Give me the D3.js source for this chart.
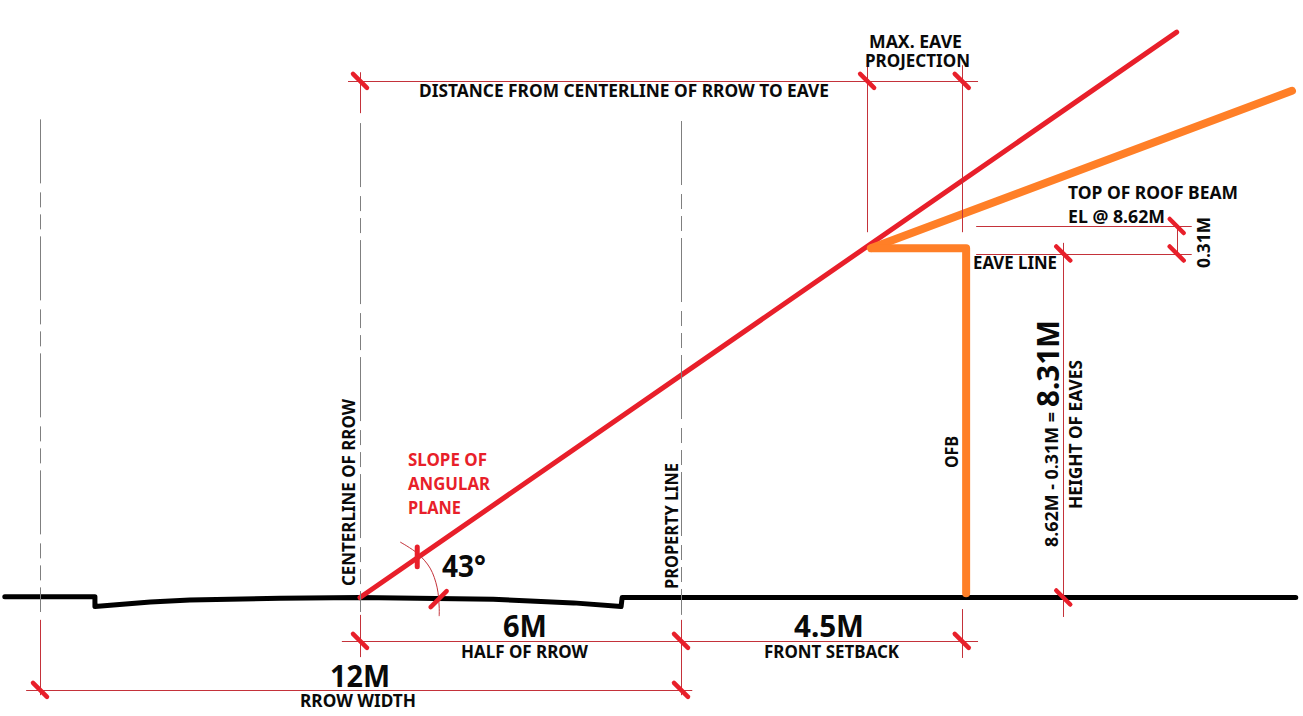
<!DOCTYPE html>
<html>

<head>
  <script src="https://cdnjs.cloudflare.com/ajax/libs/d3/7.8.5/d3.min.js"></script>
  <style>
    body,
    html {
      margin: 0;
      padding: 0;
      background: white;
      overflow: hidden;
    }

    text {
      font-family: "Noto Sans", sans-serif;
      font-weight: 700;
      fill: #0a0a0a;
    }
  </style>
</head>

<body>
  <svg id="mySVG" width="1303" height="716"></svg>

  <script>
    // everything is in metres (the sketch is not to scale, so the scales are piecewise)
    const stations = [-6, 0, 6, 10.5];
    const elevations = [0, 8.31, 8.62, 15];

    const ground = [[-6.66, 0.02], [-4.97, 0.02], [-4.97, -0.22], [-3.93, -0.11], [-3.19, -0.06], [-1.5, -0.02], [0, 0], [2.49, -0.04],
    [3.18, -0.085], [3.99, -0.13], [4.88, -0.22], [4.9, 0], [6, 0], [15.81, 0]];
    const plane = [[0, 0], [13.91, 13.31]];
    const roof = [[9.03, 8.37], [15.75, 11.89]];
    const wall = [[9.05, 8.37], [10.55, 8.37], [10.55, 0.1]];
    const angleArc = [[0.75, 1.34], [1.07, 1.07], [1.31, 0.71], [1.44, 0.25], [1.48, -0.23], [1.48, -0.45]];

    // [station, from elevation, to elevation]
    const centerLines = [[-6, 11.2, -0.35], [0, 11.11, -0.35], [6, 11.16, -0.42]];
    const extensionLines = [[-6, -0.54, -2.36], [0, 12.34, 11.35], [0, -0.42, -1.44], [6, -0.54, -2.36],
    [8.97, 12.56, 8.55], [10.48, 12.51, 8.55], [10.48, -0.28, -1.46], [12.1, 8.43, -0.47], [13.91, 8.62, 8.31]];
    // [elevation, from station, to station]
    const dimensionRows = [[12.13, -0.225, 10.74], [-1.05, -0.34, 10.74], [-2.23, -6.26, 6.18], [8.62, 10.71, 14.15], [8.31, 10.71, 14.15]];
    const slashTicks = [[0, 12.13], [8.97, 12.13], [10.48, 12.13], [0, -1.05], [6, -1.05], [10.48, -1.05], [-6, -2.23], [6, -2.23],
    [13.91, 8.62], [13.91, 8.31], [12.1, 8.31], [12.1, 0]];

    const distanceLabel = "DISTANCE FROM CENTERLINE OF RROW TO EAVE";
    const eaveLabels = ["MAX. EAVE", "PROJECTION"];
    const beamLabels = ["TOP OF ROOF BEAM", "EL @ 8.62M", "EAVE LINE", "0.31M"];
    const slopeLabels = ["SLOPE OF", "ANGULAR", "PLANE"];
    const lineLabels = ["CENTERLINE OF RROW", "PROPERTY LINE", "OFB"];
    const dimensionLabels = ["43°", "6M", "HALF OF RROW", "4.5M", "FRONT SETBACK", "12M", "RROW WIDTH"];
    const heightLabels = ["8.62M - 0.31M =", "8.31M", "HEIGHT OF EAVES"];

    const RED = "#e81f2a";
    const THIN_RED = "#c4323a";
    const ORANGE = "#ff7f27";
    const GRAY = "#7f7f7f";

    const svg = d3.select('#mySVG');

    const x = d3.scaleLinear().domain(stations).range([40, 360, 681, 963]);
    const y = d3.scaleLinear().domain(elevations).range([597.5, 253.5, 226, -37.7]);

    const line = d3.line().x(d => x(d[0])).y(d => y(d[1]));

    function thick(points, color, width) {
      svg.append('path')
        .attr('d', line(points))
        .attr('fill', 'none')
        .attr('stroke', color)
        .attr('stroke-width', width)
        .attr('stroke-linecap', 'round')
        .attr('stroke-linejoin', 'round');
    }

    thick(ground, 'black', 5);
    thick(plane, RED, 5);
    thick(roof, ORANGE, 8);
    thick(wall, ORANGE, 8);

    // long and short dashes of the centerlines
    svg.selectAll('.center')
      .data(centerLines)
      .join('line')
      .attr('class', 'center')
      .attr('x1', d => Math.round(x(d[0])) + 0.5)
      .attr('x2', d => Math.round(x(d[0])) + 0.5)
      .attr('y1', d => y(d[1]))
      .attr('y2', d => y(d[2]))
      .attr('stroke', GRAY)
      .attr('stroke-dasharray', '64 9 15 7 15 7');

    svg.selectAll('.extension')
      .data(extensionLines)
      .join('line')
      .attr('class', 'extension')
      .attr('x1', d => Math.round(x(d[0])) + 0.5)
      .attr('x2', d => Math.round(x(d[0])) + 0.5)
      .attr('y1', d => y(d[1]))
      .attr('y2', d => y(d[2]))
      .attr('stroke', THIN_RED);

    svg.selectAll('.row')
      .data(dimensionRows)
      .join('line')
      .attr('class', 'row')
      .attr('x1', d => x(d[1]))
      .attr('x2', d => x(d[2]))
      .attr('y1', d => Math.round(y(d[0])) + 0.5)
      .attr('y2', d => Math.round(y(d[0])) + 0.5)
      .attr('stroke', THIN_RED);

    svg.append('path')
      .attr('d', d3.line().x(d => x(d[0])).y(d => y(d[1])).curve(d3.curveCatmullRom)(angleArc))
      .attr('fill', 'none')
      .attr('stroke', THIN_RED);

    svg.selectAll('.slash')
      .data(slashTicks)
      .join('line')
      .attr('class', 'slash')
      .attr('x1', d => x(d[0]) - 7)
      .attr('x2', d => x(d[0]) + 7)
      .attr('y1', d => y(d[1]) - 7)
      .attr('y2', d => y(d[1]) + 7)
      .attr('stroke', RED)
      .attr('stroke-width', 4.5)
      .attr('stroke-linecap', 'round');

    // the two ticks on the angle
    thick([[1.07, 1.22], [1.07, 0.74]], RED, 5);
    svg.append('line')
      .attr('x1', x(1.47) - 8).attr('x2', x(1.47) + 8)
      .attr('y1', y(-0.04) + 8).attr('y2', y(-0.04) - 8)
      .attr('stroke', RED).attr('stroke-width', 4.5).attr('stroke-linecap', 'round');

    // x = left edge, y = baseline, w = drawn length, rot = reads bottom to top
    function label(str, px, py, w, size, opts) {
      opts = opts || {};
      svg.append('text')
        .text(str)
        .attr('transform', `translate(${px},${py})` + (opts.rot ? ' rotate(-90)' : ''))
        .attr('textLength', w)
        .attr('lengthAdjust', 'spacingAndGlyphs')
        .style('font-size', size + 'px')
        .style('fill', opts.color || null);
    }

    label(eaveLabels[0], 869, 48, 93, 17.5);
    label(eaveLabels[1], 865, 67, 105, 17.5);
    label(distanceLabel, 419, 97, 410, 17.5);

    label(beamLabels[0], 1068, 199, 170, 17.5);
    label(beamLabels[1], 1068, 223, 97, 17.5);
    label(beamLabels[2], 973, 269, 84, 17.5);
    label(beamLabels[3], 1210, 268, 51, 17.5, { rot: true });

    label(slopeLabels[0], 408, 466, 79, 17.5, { color: RED });
    label(slopeLabels[1], 408, 490, 82, 17.5, { color: RED });
    label(slopeLabels[2], 408, 514, 53, 17.5, { color: RED });

    label(lineLabels[0], 355, 586, 187, 17.5, { rot: true });
    label(lineLabels[1], 678, 589, 126, 17.5, { rot: true });
    label(lineLabels[2], 958, 468, 32, 17.5, { rot: true });

    label(dimensionLabels[0], 442, 577, 44, 30);
    label(dimensionLabels[1], 503, 637, 44, 30);
    label(dimensionLabels[2], 461, 658, 127, 17.5);
    label(dimensionLabels[3], 794, 637, 70, 30);
    label(dimensionLabels[4], 764, 658, 135, 17.5);
    label(dimensionLabels[5], 330, 687, 60, 30);
    label(dimensionLabels[6], 300, 707, 116, 17.5);

    label(heightLabels[0], 1058, 547, 135, 17.5, { rot: true });
    label(heightLabels[1], 1059, 407, 87, 30, { rot: true });
    label(heightLabels[2], 1082, 509, 149, 17.5, { rot: true });
  </script>

</body>

</html>
